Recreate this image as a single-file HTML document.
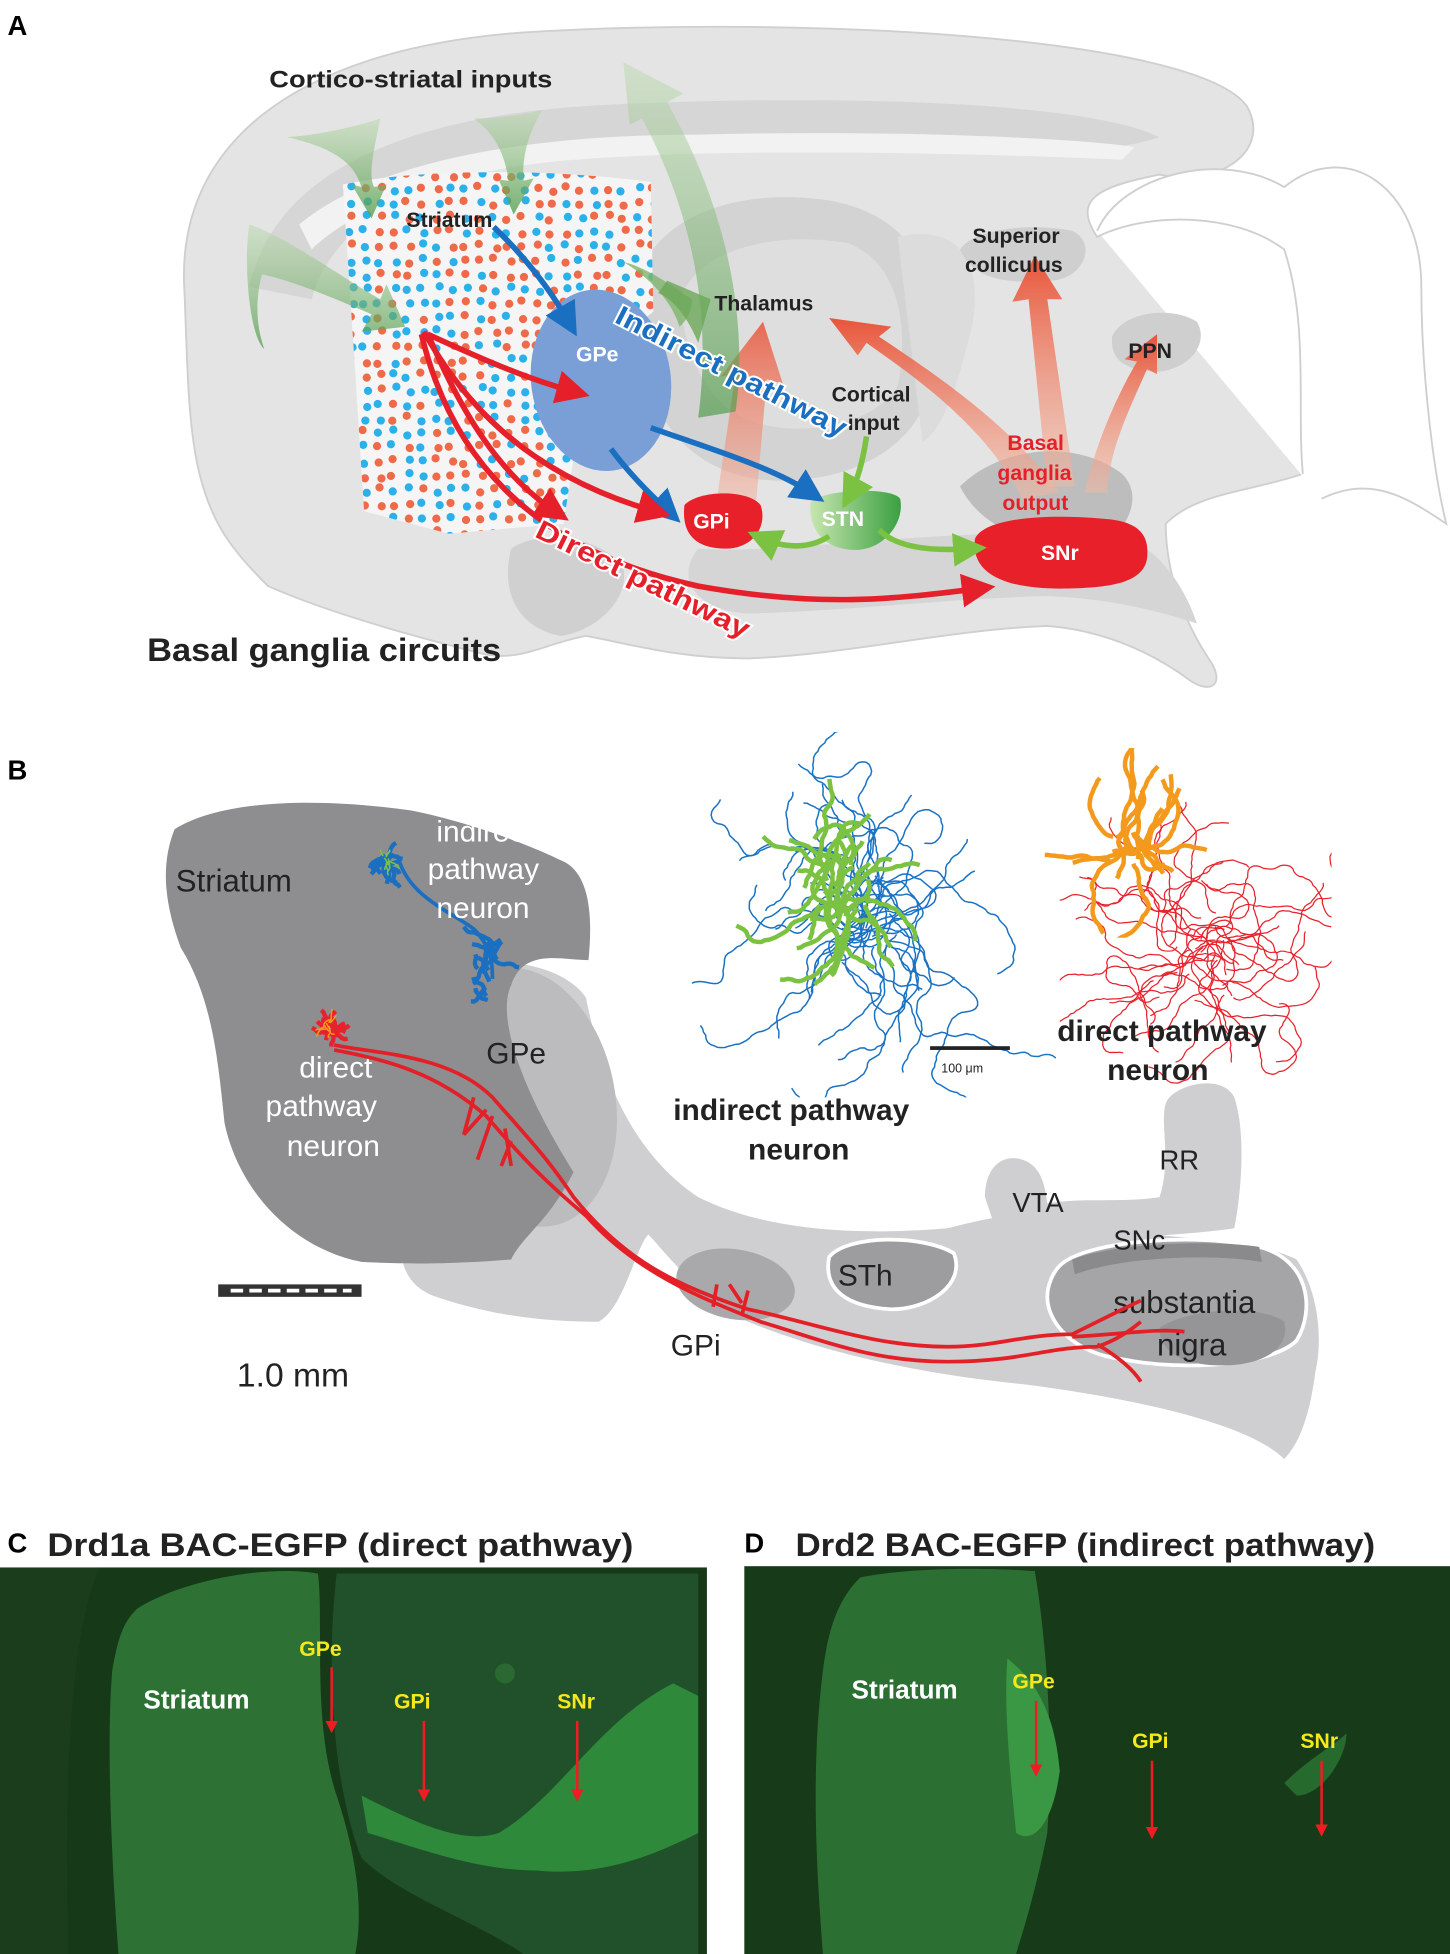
<!DOCTYPE html>
<html><head><meta charset="utf-8">
<style>
html,body{margin:0;padding:0;background:#fff;}
svg{display:block;}
text{font-family:"Liberation Sans",sans-serif;}
.b{font-weight:bold;}
</style></head>
<body>
<svg id="s" width="1450" height="1954" viewBox="0 0 1163 1567" preserveAspectRatio="none" xmlns="http://www.w3.org/2000/svg">
<defs>
 <clipPath id="stc"><path d="M275,148 C340,134 450,136 522,146 L524,250 L472,290 L452,420 L360,428 L292,410 L285,300 Z"/></clipPath>
 <clipPath id="cb"><rect x="555" y="587" width="292" height="293"/></clipPath>
 <clipPath id="cg"><rect x="588" y="622" width="180" height="180"/></clipPath>
 <clipPath id="co"><rect x="838" y="600" width="138" height="152"/></clipPath>
 <clipPath id="cr"><rect x="850" y="600" width="218" height="355"/></clipPath>
 <linearGradient id="stn" x1="0" y1="0" x2="1" y2="0"><stop offset="0" stop-color="#c8e6b0"/><stop offset="1" stop-color="#3aa040"/></linearGradient>
 <linearGradient id="ro" x1="0" y1="1" x2="0" y2="0"><stop offset="0" stop-color="#f6b8a0" stop-opacity=".5"/><stop offset="1" stop-color="#e8553a"/></linearGradient>
 <linearGradient id="gg" x1="0" y1="0" x2="0" y2="1"><stop offset="0" stop-color="#b8d8a8" stop-opacity=".6"/><stop offset="1" stop-color="#4e9a48" stop-opacity=".9"/></linearGradient>
 <marker id="ab" markerWidth="6" markerHeight="6" refX="3" refY="3" orient="auto"><path d="M0,0 L6,3 L0,6 Z" fill="#1a6fc0"/></marker>
 <marker id="ar" markerWidth="6" markerHeight="6" refX="3" refY="3" orient="auto"><path d="M0,0 L6,3 L0,6 Z" fill="#e5202a"/></marker>
 <marker id="ag" markerWidth="6" markerHeight="6" refX="3" refY="3" orient="auto"><path d="M0,0 L6,3 L0,6 Z" fill="#7cc242"/></marker>
 <marker id="ar2" markerWidth="5" markerHeight="5" refX="2.5" refY="2.5" orient="auto"><path d="M0,0 L5,2.5 L0,5 Z" fill="#f01c24"/></marker>
</defs>

<!-- PANEL A -->
<text x="6" y="28" class="b" font-size="22">A</text>
<path d="M148,235 C140,120 230,40 420,26 C650,12 960,30 1000,85 C1020,120 980,150 930,140 C880,150 860,160 880,190 L900,180 C950,150 1010,130 1030,180 C1050,230 1040,300 1045,380 C1000,395 960,395 935,420 C935,460 950,500 972,532 C982,550 970,556 955,546 C920,520 880,505 840,502 C760,505 680,525 600,528 C540,528 500,515 470,510 C440,515 420,530 390,525 C330,510 260,490 215,470 C185,440 170,420 160,380 C150,340 150,280 148,235 Z" fill="#e4e4e5" stroke="#cfcfd0" stroke-width="1.5"/>
<path d="M200,230 C220,140 320,95 470,85 C650,75 870,80 930,110 C900,120 850,125 800,120 C650,110 450,115 370,140 C300,160 260,200 250,240 Z" fill="#d6d6d7"/>
<path d="M240,180 C300,130 420,108 560,108 C700,104 860,110 910,118 L900,128 C760,122 560,118 440,130 C350,140 280,170 250,200 Z" fill="#f2f2f2"/>
<path d="M880,185 C900,140 980,120 1030,150 C1080,110 1140,150 1140,230 C1140,300 1150,380 1160,420 C1130,400 1100,380 1060,400" fill="#fff" stroke="#cfcfd0" stroke-width="1.5"/>
<path d="M880,190 C920,170 990,170 1030,200 C1050,260 1040,330 1045,380" fill="none" stroke="#cfcfd0" stroke-width="1.5"/>
<path d="M510,230 C520,180 580,150 660,160 C730,170 760,220 750,300 C740,350 700,380 640,385 C580,390 540,360 525,320 Z" fill="#d3d3d4"/>
<path d="M545,240 C560,200 620,185 680,195 C720,210 730,260 720,310 C700,340 650,350 610,340 C570,330 550,290 545,240 Z" fill="#dedede"/>
<path d="M720,190 C760,180 790,200 780,260 C770,300 760,340 740,355 Z" fill="#dcdcdd"/>
<path d="M560,440 C640,445 760,420 900,430 C930,440 950,470 960,500 C930,490 890,480 840,478 C760,480 680,490 600,492 C560,490 540,465 560,440 Z" fill="#d5d5d6"/>
<path d="M410,440 C430,425 480,428 500,455 C505,480 480,505 450,510 C420,505 400,480 410,440 Z" fill="#d0d0d1"/>
<path d="M770,390 C800,360 860,350 900,380 C920,400 900,430 880,440 C840,440 790,430 770,390 Z" fill="#bdbdbe"/>
<path d="M770,200 C780,185 820,178 860,185 C880,195 870,222 845,225 C810,228 780,225 770,200 Z" fill="#cfcfd0"/>
<path d="M892,270 C900,250 940,245 960,258 C970,275 955,295 930,298 C905,298 890,290 892,270 Z" fill="#cfcfd0"/>
<path d="M275,148 C340,134 450,136 522,146 L524,250 L472,290 L452,420 L360,428 L292,410 L285,300 Z" fill="#f5f5f5"/>
<g id="dots" clip-path="url(#stc)"></g>
<path d="M572,420 L590,300 L578,302 L612,258 L628,308 L615,304 L605,420 Z" fill="url(#ro)" opacity=".85"/>
<path d="M820,400 C790,340 730,300 695,275 L688,285 L665,255 L715,262 L705,270 C750,300 810,340 850,395 Z" fill="url(#ro)"/>
<path d="M840,390 L825,240 L812,242 L830,205 L852,240 L840,240 L862,390 Z" fill="url(#ro)"/>
<path d="M870,395 C880,350 900,310 912,290 L902,288 L928,268 L928,300 L920,296 C905,330 890,360 888,395 Z" fill="url(#ro)"/>
<path d="M200,180 C230,190 270,220 305,240 L310,228 L325,262 L290,266 L298,252 C270,240 235,225 210,220 C205,240 205,260 212,280 C200,270 195,210 200,180 Z" fill="url(#gg)" opacity=".8"/>
<path d="M230,110 C260,108 290,100 305,95 C300,120 295,140 300,150 L310,148 L298,175 L282,148 L290,150 C285,135 275,120 230,110 Z" fill="url(#gg)" opacity=".85"/>
<path d="M380,95 C400,95 420,92 435,88 C425,105 418,125 420,145 L428,143 L412,172 L400,144 L408,145 C405,125 398,108 380,95 Z" fill="url(#gg)" opacity=".85"/>
<path d="M560,335 C570,260 560,180 515,95 L505,100 L500,50 L548,75 L535,82 C585,170 600,260 590,330 Z" fill="url(#gg)" opacity=".75"/>
<path d="M500,210 C520,215 540,230 555,240 C555,250 550,258 545,262 C540,245 525,225 500,210 Z" fill="#7fb56a" opacity=".8"/>
<path d="M535,225 L528,235 C540,240 552,255 560,275 L570,240 Z" fill="#6aa858" opacity=".8"/>
<text x="216" y="70" class="b" font-size="19" fill="#222" textLength="227" lengthAdjust="spacingAndGlyphs">Cortico-striatal inputs</text>
<ellipse cx="482" cy="305" rx="56" ry="73" fill="#7a9fd6" transform="rotate(-8 482 305)"/>
<text x="462" y="290" class="b" font-size="17" fill="#fff">GPe</text>
<path d="M549,405 C560,393 600,392 610,405 C616,422 604,440 582,440 C560,440 546,430 549,405 Z" fill="#e8202a"/>
<text x="556" y="424" class="b" font-size="17" fill="#fff">GPi</text>
<path d="M650,403 C660,392 715,390 722,400 C726,420 708,441 686,441 C662,441 648,425 650,403 Z" fill="url(#stn)"/>
<text x="659" y="422" class="b" font-size="17" fill="#fff">STN</text>
<path d="M782,432 C790,415 840,412 885,416 C915,418 922,430 920,448 C917,466 895,472 850,472 C810,472 778,462 782,432 Z" fill="#e8202a"/>
<text x="835" y="449" class="b" font-size="17" fill="#fff">SNr</text>
<g stroke="#1a6fc0" stroke-width="4.5" fill="none" marker-end="url(#ab)">
<path d="M396,182 C420,205 440,230 456,258"/>
<path d="M490,360 C505,380 520,395 536,410"/>
<path d="M522,343 C570,360 620,375 650,395"/>
</g>
<g stroke="#e5202a" stroke-width="4.5" fill="none" marker-end="url(#ar)">
<path d="M343,268 C380,285 420,303 460,314"/>
<path d="M340,266 C370,320 420,380 525,410"/>
<path d="M338,268 C360,360 420,440 560,470 C660,488 720,480 785,472"/>
<path d="M345,272 C370,330 400,380 445,410"/>
</g>
<g stroke="#7cc242" stroke-width="4.5" fill="none" marker-end="url(#ag)">
<path d="M665,430 C650,440 630,440 612,432"/>
<path d="M705,425 C720,440 750,442 778,440"/>
<path d="M695,350 C692,370 688,385 682,396"/>
</g>
<text x="326" y="182" class="b" font-size="17" fill="#222">Striatum</text>
<text x="573" y="249" class="b" font-size="17" fill="#222">Thalamus</text>
<text x="780" y="195" class="b" font-size="17" fill="#222">Superior</text>
<text x="774" y="218" class="b" font-size="17" fill="#222">colliculus</text>
<text x="905" y="287" class="b" font-size="17" fill="#222">PPN</text>
<text x="667" y="322" class="b" font-size="17" fill="#222">Cortical</text>
<text x="680" y="345" class="b" font-size="17" fill="#222">input</text>
<text x="808" y="361" class="b" font-size="17" fill="#e5202a">Basal</text>
<text x="800" y="385" class="b" font-size="17" fill="#e5202a">ganglia</text>
<text x="804" y="409" class="b" font-size="17" fill="#e5202a">output</text>
<text x="0" y="0" class="b" font-size="22" fill="#1a6fc0" stroke="#fff" stroke-width="3" paint-order="stroke" textLength="205" lengthAdjust="spacingAndGlyphs" transform="translate(492,258) rotate(27)">Indirect pathway</text>
<text x="0" y="0" class="b" font-size="22" fill="#e5202a" stroke="#fff" stroke-width="3" paint-order="stroke" textLength="188" lengthAdjust="spacingAndGlyphs" transform="translate(428,430) rotate(26)">Direct pathway</text>
<text x="118" y="530" class="b" font-size="26" fill="#222" textLength="284" lengthAdjust="spacingAndGlyphs">Basal ganglia circuits</text>

<!-- PANEL B -->
<text x="6" y="625" class="b" font-size="22">B</text>
<path d="M345,790 C380,760 450,770 470,800 C480,850 500,920 560,960 C620,990 700,990 760,985 C800,975 820,970 860,980 C920,995 1000,990 1040,1010 C1060,1040 1060,1080 1055,1100 C1050,1140 1040,1160 1030,1170 C1000,1140 900,1120 820,1110 C720,1100 650,1080 600,1060 C560,1040 530,1000 520,990 C510,1000 500,1050 480,1060 C420,1060 380,1050 350,1040 C320,1030 315,1000 330,970 C345,940 340,900 345,790 Z" fill="#cfcfd1"/>
<ellipse cx="423" cy="880" rx="70" ry="105" fill="#bcbcbe" transform="rotate(-12 423 880)"/>
<path d="M140,665 C180,640 260,640 330,650 C380,660 430,680 450,690 C475,700 475,740 472,770 C450,770 420,760 410,790 C400,810 410,860 460,940 C440,980 420,990 410,1010 C350,1015 310,1013 290,1012 C230,1000 190,950 180,900 C175,850 170,800 145,760 C130,720 130,690 140,665 Z" fill="#8e8e90"/>
<path d="M790,960 C790,935 805,925 820,930 C835,935 838,950 840,965 C870,960 900,965 930,960 C940,930 930,900 935,885 C940,870 980,860 990,880 C1000,910 995,960 990,985 C960,990 820,1000 800,990 Z" fill="#cfcfd1"/>
<ellipse cx="590" cy="1030" rx="48" ry="28" fill="#a9a9ab" transform="rotate(10 590 1030)"/>
<path d="M665,1008 C680,990 740,990 765,1005 C775,1030 745,1050 715,1050 C680,1048 660,1035 665,1008 Z" fill="#9d9d9f" stroke="#fff" stroke-width="3"/>
<path d="M850,1015 C870,995 960,988 1010,1000 C1050,1010 1055,1050 1040,1075 C1020,1095 950,1100 900,1090 C860,1085 840,1060 840,1040 C840,1030 845,1020 850,1015 Z" fill="#a5a5a7" stroke="#fff" stroke-width="3"/>
<path d="M860,1010 C900,995 980,995 1010,1000 L1012,1012 C970,1005 900,1008 862,1022 Z" fill="#8a8a8c"/>
<path d="M930,1065 C950,1050 1010,1045 1030,1060 C1035,1080 1015,1095 980,1095 C950,1095 930,1085 930,1065 Z" fill="#959597"/>
<g id="mini"></g>
<g font-size="24" fill="#fff">
<text x="350" y="675">indirect</text>
<text x="343" y="705">pathway</text>
<text x="350" y="736">neuron</text>
<text x="240" y="864">direct</text>
<text x="213" y="895">pathway</text>
<text x="230" y="927">neuron</text>
</g>
<text x="141" y="715" font-size="25" fill="#222">Striatum</text>
<text x="390" y="853" font-size="24" fill="#222">GPe</text>
<text x="538" y="1087" font-size="24" fill="#222">GPi</text>
<text x="672" y="1031" font-size="24" fill="#222">STh</text>
<text x="812" y="972" font-size="22" fill="#222">VTA</text>
<text x="930" y="938" font-size="22" fill="#222">RR</text>
<text x="893" y="1002" font-size="22" fill="#222">SNc</text>
<text x="893" y="1053" font-size="25" fill="#222">substantia</text>
<text x="928" y="1087" font-size="25" fill="#222">nigra</text>
<rect x="175" y="1030" width="115" height="10" fill="#333"/>
<line x1="185" y1="1035" x2="282" y2="1035" stroke="#fff" stroke-width="3" stroke-dasharray="10 5"/>
<text x="190" y="1112" font-size="27" fill="#222">1.0 mm</text>
<g stroke="#e32028" stroke-width="3" fill="none">
<path d="M268,838 C300,845 360,845 395,880 C430,920 440,930 460,960 C500,1010 540,1030 600,1050 C650,1060 700,1080 760,1080 C800,1080 820,1070 860,1070 C880,1060 900,1050 915,1043"/>
<path d="M268,842 C310,850 350,860 390,895 C420,930 440,950 470,975 C510,1020 560,1040 610,1060 C660,1075 700,1092 760,1092 C820,1092 840,1080 880,1080 C895,1075 905,1068 915,1060 M880,1078 C900,1090 910,1100 915,1108"/>
<path d="M860,1072 C900,1070 930,1065 950,1068"/>
<path d="M380,880 l-8,30 M395,895 l-12,35 M405,905 l5,30 M390,890 l-18,20 M410,915 l-8,20 M575,1030 l-3,18 M585,1030 l10,15 M600,1035 l-5,20"/>
</g>
<g id="tb" clip-path="url(#cb)"></g>
<g id="tg" clip-path="url(#cg)"></g>
<g id="tr" clip-path="url(#cr)"></g>
<g id="to" clip-path="url(#co)"></g>
<text x="540" y="898" class="b" font-size="24" fill="#222">indirect pathway</text>
<text x="600" y="930" class="b" font-size="24" fill="#222">neuron</text>
<text x="848" y="835" class="b" font-size="24" fill="#222">direct pathway</text>
<text x="888" y="866" class="b" font-size="24" fill="#222">neuron</text>
<rect x="746" y="839" width="64" height="3" fill="#222"/>
<text x="755" y="860" font-size="10" fill="#222">100 μm</text>

<!-- PANELS C & D -->
<text x="6" y="1245" class="b" font-size="22">C</text>
<text x="38" y="1248" class="b" font-size="26" fill="#222" textLength="470" lengthAdjust="spacingAndGlyphs">Drd1a BAC-EGFP (direct pathway)</text>
<text x="597" y="1245" class="b" font-size="22">D</text>
<text x="638" y="1248" class="b" font-size="26" fill="#222" textLength="465" lengthAdjust="spacingAndGlyphs">Drd2 BAC-EGFP  (indirect pathway)</text>

<rect x="0" y="1257" width="567" height="310" fill="#163a18"/>
<path d="M0,1257 L80,1257 C60,1300 50,1400 55,1567 L0,1567 Z" fill="#1b3d1c"/>
<path d="M110,1290 C150,1265 220,1255 255,1262 C260,1300 250,1380 270,1440 C290,1500 290,1540 285,1567 L95,1567 C90,1500 85,1400 90,1340 C95,1310 100,1300 110,1290 Z" fill="#2d7234"/>
<path d="M270,1262 L560,1262 L560,1567 L420,1567 C380,1540 320,1520 290,1490 C270,1440 260,1350 270,1262 Z" fill="#21512a"/>
<path d="M290,1440 C330,1460 370,1480 400,1470 C450,1440 480,1380 540,1350 L560,1360 L560,1470 C520,1490 480,1505 430,1500 C380,1500 330,1480 295,1470 Z" fill="#2e8a3a"/>
<circle cx="405" cy="1342" r="8" fill="#2a6a32"/>
<text x="115" y="1370" class="b" font-size="21" fill="#fff">Striatum</text>
<text x="240" y="1328" class="b" font-size="17" fill="#f5e81c">GPe</text>
<text x="316" y="1370" class="b" font-size="17" fill="#f5e81c">GPi</text>
<text x="447" y="1370" class="b" font-size="17" fill="#f5e81c">SNr</text>
<g stroke="#f01c24" stroke-width="2" marker-end="url(#ar2)">
<line x1="266" y1="1337" x2="266" y2="1385"/>
<line x1="340" y1="1380" x2="340" y2="1440"/>
<line x1="463" y1="1380" x2="463" y2="1440"/>
</g>

<rect x="597" y="1256" width="566" height="311" fill="#173a19"/>
<path d="M690,1265 C730,1257 790,1257 830,1260 C840,1320 845,1400 840,1470 C830,1520 820,1550 815,1567 L660,1567 C655,1500 650,1420 660,1340 C665,1300 675,1280 690,1265 Z" fill="#2c6f33"/>
<path d="M808,1330 C820,1340 845,1360 850,1420 C845,1460 830,1480 815,1470 C810,1420 805,1370 808,1330 Z" fill="#3a9844"/>
<path d="M1030,1430 C1050,1410 1070,1400 1080,1390 C1080,1410 1060,1440 1040,1440 Z" fill="#266a2e"/>
<text x="683" y="1362" class="b" font-size="21" fill="#fff">Striatum</text>
<text x="812" y="1354" class="b" font-size="17" fill="#f5e81c">GPe</text>
<text x="908" y="1402" class="b" font-size="17" fill="#f5e81c">GPi</text>
<text x="1043" y="1402" class="b" font-size="17" fill="#f5e81c">SNr</text>
<g stroke="#f01c24" stroke-width="2" marker-end="url(#ar2)">
<line x1="831" y1="1364" x2="831" y2="1420"/>
<line x1="924" y1="1412" x2="924" y2="1470"/>
<line x1="1060" y1="1412" x2="1060" y2="1468"/>
</g>
</svg>
<script>
(function(){
var s=12345;function r(){s=(s*16807)%2147483647;return s/2147483647;}
var NS="http://www.w3.org/2000/svg";
var d=document.getElementById("dots");
for(var y=140;y<435;y+=11.5){for(var x=270;x<530;x+=11.5){
 var c=document.createElementNS(NS,"circle");
 c.setAttribute("cx",x+(r()-.5)*5);c.setAttribute("cy",y+(r()-.5)*5);
 c.setAttribute("r",3.3);c.setAttribute("fill",r()<.5?"#ef6a48":"#2bb0ea");d.appendChild(c);}}
function walk(g,cx,cy,n,len,col,w,step,turn,bx,by,rx,ry){
 var t=document.getElementById(g);
 for(var i=0;i<n;i++){var x=cx+(r()-.5)*rx,y=cy+(r()-.5)*ry,a=r()*6.283,p="M"+x.toFixed(1)+","+y.toFixed(1);
  var L=len*(0.5+r());
  for(var k=0;k<L;k++){a+=(r()-.5)*turn;x+=Math.cos(a)*step+bx;y+=Math.sin(a)*step+by;p+=" L"+x.toFixed(1)+","+y.toFixed(1);}
  var e=document.createElementNS(NS,"path");e.setAttribute("d",p);e.setAttribute("stroke",col);
  e.setAttribute("stroke-width",w);e.setAttribute("fill","none");e.setAttribute("stroke-linejoin","round");t.appendChild(e);}
}
walk("tb",695,730,40,50,"#1a72c4",1.2,3,1.1,0,0,50,60);
walk("tg",678,710,30,20,"#7cc242",3.6,3.2,1.0,0,0,40,40);
walk("tr",960,770,40,45,"#e8222c",1,2.8,1.1,0,0,70,80);
walk("to",905,680,18,22,"#f39a1c",3.6,3,0.8,-0.2,-0.4,30,30);
walk("mini",310,690,14,6,"#1a6fc0",3.5,2.5,1.2,0,0,10,10);
walk("mini",310,688,8,4,"#7cc242",1.2,2,1.2,0,0,6,6);
walk("mini",388,775,14,8,"#1a6fc0",3.5,2.5,1.2,0,0,20,40);
walk("mini",264,826,14,5,"#e8222c",3.5,2.5,1.2,0,0,10,10);
walk("mini",262,822,8,4,"#f39a1c",1.2,2,1.2,0,0,6,6);
var b=document.createElementNS(NS,"path");b.setAttribute("d","M320,690 C330,720 360,730 380,745 C395,760 395,775 395,785");
b.setAttribute("stroke","#1a6fc0");b.setAttribute("stroke-width","3");b.setAttribute("fill","none");document.getElementById("mini").appendChild(b);
})();
</script>
</body></html>
